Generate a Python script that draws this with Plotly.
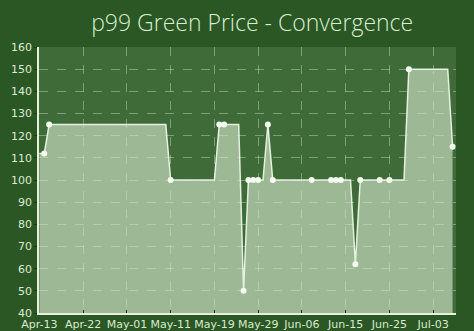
import plotly.graph_objects as go
import pandas as pd

# ---- data ----
start_date = "2015-04-13"
# line points: (day offset from start, value)
line_days   = [0, 1, 2, 26, 27, 36, 37, 38, 41, 42, 43, 44, 45, 46, 47, 48, 56, 60, 61, 62, 64, 65, 66, 70, 72, 75, 76, 84, 85]
line_values = [112, 112, 125, 125, 100, 100, 125, 125, 125, 50, 100, 100, 100, 100, 125, 100, 100, 100, 100, 100, 100, 62, 100, 100, 100, 100, 150, 150, 115]
# points drawn with a marker
marker_days   = [1, 2, 27, 37, 38, 42, 43, 44, 45, 47, 48, 56, 60, 61, 62, 65, 66, 70, 72, 76, 85]
marker_values = [112, 125, 100, 125, 125, 50, 100, 100, 100, 125, 100, 100, 100, 100, 100, 62, 100, 100, 100, 150, 115]

tick_days   = [0, 9, 18, 27, 36, 45, 54, 63, 72, 81]
tick_labels = ["Apr-13", "Apr-22", "May-01", "May-11", "May-19", "May-29", "Jun-06", "Jun-15", "Jun-25", "Jul-03"]

title_text = "p99 Green Price - Convergence"

t0 = pd.Timestamp(start_date)
to_dates = lambda days: [t0 + pd.Timedelta(days=d) for d in days]

fig = go.Figure()
fig.add_trace(go.Scatter(
    x=to_dates(line_days), y=line_values, mode="lines",
    line=dict(color="rgba(235,245,228,0.95)", width=1.5),
    fill="tozeroy", fillcolor="rgba(220,235,210,0.6)",
    hoverinfo="skip", showlegend=False,
))
fig.add_trace(go.Scatter(
    x=to_dates(marker_days), y=marker_values, mode="markers",
    marker=dict(color="#f4fbef", size=6, line=dict(width=0)),
    showlegend=False,
))

grid_col = "rgba(200,225,190,0.45)"
axis_font = dict(family="DejaVu Sans", size=11, color="#dce9d2")

fig.update_layout(
    width=474, height=331,
    margin=dict(l=39, r=18, t=47, b=18),
    paper_bgcolor="#2a5724",
    plot_bgcolor="#3e6b38",
    title=dict(text=title_text, x=0.532, xanchor="center", y=0.93, yanchor="middle",
               font=dict(family="Open Sans", size=23, color="#d9eed2", weight=300)),
    xaxis=dict(
        type="date", automargin=False,
        range=[t0 - pd.Timedelta(hours=2), t0 + pd.Timedelta(days=85.7)],
        tickvals=to_dates(tick_days), ticktext=tick_labels,
        showgrid=True, gridcolor=grid_col, griddash="dash", gridwidth=1,
        showline=True, linecolor="#e6f2dc", linewidth=1.5,
        ticks="inside", ticklen=3, tickcolor="#1c3a18",
        tickfont=axis_font, zeroline=False, fixedrange=True,
    ),
    yaxis=dict(
        automargin=False,
        range=[40, 160], dtick=10, tick0=40,
        showgrid=True, gridcolor=grid_col, griddash="dash", gridwidth=1,
        showline=True, linecolor="#e6f2dc", linewidth=1.5,
        ticks="outside", ticklen=3, tickcolor="#1c3a18",
        tickfont=axis_font, zeroline=False, fixedrange=True,
    ),
)

fig.write_html("out.html")
